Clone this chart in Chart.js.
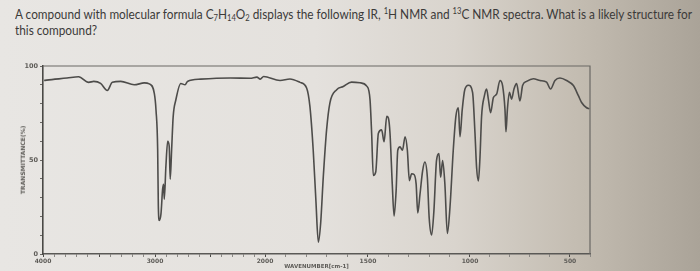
<!DOCTYPE html>
<html>
<head>
<meta charset="utf-8">
<script src="https://cdn.jsdelivr.net/npm/chart.js@4.4.1/dist/chart.umd.min.js"></script>
<style>
  html, body { margin: 0; padding: 0; }
  body {
    width: 700px; height: 271px; overflow: hidden; position: relative;
    background: linear-gradient(90deg, #e8e6e3 0%, #e4e1dd 45%, #d9d4cd 65%, #c4bdb2 82%, #aaa398 100%);
  }
  #q {
    position: absolute; left: 15px; top: 6px; white-space: nowrap;
    font-family: Lato, "Open Sans", sans-serif; font-size: 14px; line-height: 16px;
    color: #3b3a39; transform-origin: 0 0;
  }
  #q sub, #q sup { font-size: 9px; line-height: 0; }
  #q sub { vertical-align: -2px; }
  #q sup { vertical-align: 5px; }
  #wrap { position: absolute; left: 0; top: 0; width: 700px; height: 271px; }
  #ytitle {
    position: absolute; left: 23px; top: 160px; white-space: nowrap;
    font: bold 6px "DejaVu Sans", sans-serif; line-height: 6px; color: #5e5c58;
    transform: translate(-50%, -50%) rotate(-90deg);
  }
</style>
</head>
<body>
<div id="q"><span id="l1">A compound with molecular formula C<sub>7</sub>H<sub>14</sub>O<sub>2</sub> displays the following IR, <sup>1</sup>H NMR and <sup>13</sup>C NMR spectra. What is a likely structure for</span><br>this compound?</div>
<div id="wrap"><canvas id="c" width="700" height="271"></canvas></div>
<div id="ytitle"></div>
<script>
// ---- data (wavenumber in cm-1, transmittance in %) ----
const wavenumbers = [
  3990, 3967, 3786, 3682, 3592, 3547, 3486, 3426, 3381, 3306, 3186, 3096, 3051, 3006,
  2991, 2976, 2970, 2961, 2946, 2931, 2922, 2916, 2901, 2885, 2871, 2862, 2849, 2835,
  2811, 2766, 2727, 2705, 2585, 2315, 2135, 2074, 2043, 2013, 1927, 1879, 1830, 1798,
  1782, 1766, 1753, 1741, 1730, 1717, 1701, 1685, 1652, 1620, 1580, 1539, 1506, 1490,
  1482, 1474, 1462, 1449, 1433, 1421, 1408, 1400, 1392, 1381, 1372, 1362, 1354, 1343,
  1331, 1318, 1307, 1297, 1286, 1274, 1264, 1256, 1245, 1232, 1221, 1209, 1200, 1188,
  1177, 1164, 1152, 1144, 1134, 1123, 1111, 1098, 1082, 1069, 1057, 1049, 1038, 1025,
  1008, 987, 975, 967, 958, 950, 942, 928, 917, 908, 897, 883, 867, 850,
  837, 825, 820, 813, 803, 792, 780, 767, 750, 737, 717, 683, 650, 617,
  597, 575, 550, 517, 483, 458, 442, 417, 403
];
const transmittance = [
  92.3, 92.5, 93.6, 94.3, 91.3, 91.8, 90.8, 87.0, 91.3, 91.8, 90.0, 91.0, 90.5, 85.3,
  76.5, 55.6, 25.7, 17.8, 21.3, 34.5, 37.1, 29.2, 46.8, 59.9, 57.3, 39.8, 55.6, 73.1,
  81.9, 90.7, 90.0, 91.8, 93.0, 93.6, 93.5, 94.1, 93.0, 94.4, 92.3, 93.1, 91.3, 88.3,
  78.5, 55.3, 28.6, 6.3, 16.1, 41.0, 66.0, 80.3, 87.4, 89.1, 91.4, 91.1, 89.3, 82.1,
  64.2, 41.8, 43.6, 64.2, 66.0, 59.7, 73.2, 72.3, 64.2, 37.3, 20.2, 33.7, 55.2, 57.0,
  55.2, 62.4, 55.2, 39.0, 42.7, 42.3, 37.3, 21.9, 31.8, 44.4, 48.9, 40.8, 19.2, 10.1,
  22.7, 49.8, 53.4, 40.8, 49.7, 37.1, 10.9, 25.0, 55.2, 73.3, 77.8, 62.4, 76.8, 87.6,
  89.8, 85.9, 64.2, 46.0, 38.8, 51.5, 73.2, 84.1, 87.7, 82.3, 75.1, 83.2, 85.0, 92.3,
  89.5, 76.8, 65.0, 76.8, 86.0, 82.4, 87.8, 90.6, 81.4, 89.6, 91.8, 93.2, 92.3, 91.4,
  87.8, 92.3, 93.6, 92.3, 89.6, 84.2, 80.6, 77.8, 77.3
];
const xTickValues = [];
for (let v = 4000; v >= 400; v -= 100) xTickValues.push(v);
const xTickLabels = [4000, 3000, 2000, 1500, 1000, 500];
const yTickLabels = [0, 50, 100];
const yTitle = 'TRANSMITTANCE(%)';
const xTitle = 'WAVENUMBER[cm-1]';

// ---- axis layout: piecewise scale of the printed spectrum ----
const AX_WN = [4000, 3000, 2000, 1500, 1000, 500, 400];
const AX_FR = [0, 0.2048, 0.4059, 0.5941, 0.7806, 0.9634, 1];
function waveToFrac(w) {
  for (let i = 0; i < AX_WN.length - 1; i++) {
    const a = AX_WN[i], b = AX_WN[i + 1];
    if (w <= a && w >= b || i === AX_WN.length - 2) {
      return AX_FR[i] + (a - w) / (a - b) * (AX_FR[i + 1] - AX_FR[i]);
    }
  }
  return 0;
}
function fracToWave(f) {
  for (let i = 0; i < AX_FR.length - 1; i++) {
    if (f >= AX_FR[i] && f <= AX_FR[i + 1]) {
      return AX_WN[i] - (f - AX_FR[i]) / (AX_FR[i + 1] - AX_FR[i]) * (AX_WN[i] - AX_WN[i + 1]);
    }
  }
  return 400;
}
class WaveScale extends Chart.LinearScale {
  static id = 'wave';
  static defaults = Chart.LinearScale.defaults;
  buildTicks() { return xTickValues.map(v => ({ value: v })); }
  getPixelForValue(v) { return this.getPixelForDecimal(waveToFrac(v)); }
  getValueForPixel(p) { return fracToWave(this.getDecimalForPixel(p)); }
}
Chart.register(WaveScale);

document.getElementById('ytitle').textContent = yTitle;

// fit the question line
const l1 = document.getElementById('l1');
const qEl = document.getElementById('q');
const w = l1.getBoundingClientRect().width;
qEl.style.transform = 'scaleX(' + (677 / w) + ')';

const frame = {
  id: 'frame',
  afterDraw(chart) {
    const { ctx, chartArea: a } = chart;
    ctx.save();
    ctx.strokeStyle = '#6a6864';
    ctx.lineWidth = 1.2;
    ctx.beginPath();
    ctx.moveTo(a.left, a.top);
    ctx.lineTo(a.right, a.top);
    ctx.lineTo(a.right, a.bottom);
    ctx.stroke();
    ctx.restore();
  }
};

new Chart(document.getElementById('c'), {
  type: 'line',
  data: {
    datasets: [{
      data: wavenumbers.map((x, i) => ({ x, y: transmittance[i] })),
      borderColor: '#4d4c4a',
      borderWidth: 1.6,
      pointRadius: 0,
      fill: false,
      cubicInterpolationMode: 'monotone'
    }]
  },
  plugins: [frame],
  options: {
    responsive: false,
    animation: false,
    devicePixelRatio: 1,
    layout: { padding: { left: 0, top: 66, right: 110, bottom: 0 } },
    plugins: { legend: { display: false }, tooltip: { enabled: false } },
    scales: {
      x: {
        type: 'wave', min: 400, max: 4000,
        afterFit(s) { s.height = 17; },
        border: { display: true, color: '#5a5956', width: 1.4 },
        grid: { drawOnChartArea: false, drawTicks: true, tickLength: 3,
                tickColor: c => (c.tick && c.tick.value % 500 === 0) ? '#4a4946' : '#8a8884' },
        ticks: {
          autoSkip: false, maxRotation: 0, padding: 1,
          font: { family: 'DejaVu Sans', size: 6, weight: 'bold' }, color: '#5e5c58',
          callback: v => xTickLabels.includes(v) ? String(v) : ''
        },
        title: { display: true, text: xTitle, color: '#5e5c58',
                 font: { family: 'DejaVu Sans', size: 5.5, weight: 'bold' }, padding: { top: 0, bottom: 1 } }
      },
      y: {
        min: 0, max: 100,
        afterFit(s) { s.width = 43; },
        border: { display: true, color: '#4a4946', width: 1.6 },
        grid: { drawOnChartArea: false, tickLength: 3, tickColor: '#6a6864' },
        ticks: {
          stepSize: 10, autoSkip: false, padding: 2,
          font: { family: 'DejaVu Sans', size: 6.5, weight: 'bold' }, color: '#5e5c58',
          callback: v => yTickLabels.includes(v) ? String(v) : ''
        },
        title: { display: false }
      }
    }
  }
});
</script>
</body>
</html>
